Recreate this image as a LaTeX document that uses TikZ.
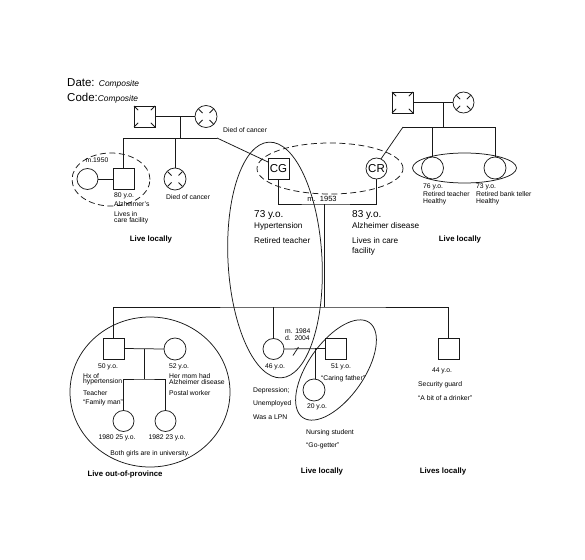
\documentclass[tikz,border=0pt]{standalone}
\usepackage{fontspec}
\setmainfont{Liberation Sans}
\usetikzlibrary{calc}
\newcommand\dsq[1]{\foreach \a in {north west,north east,south west,south east}{\draw[ln] (#1.\a) -- ($(#1.\a)!0.4!(#1.center)$);}}
\newcommand\dci[1]{\foreach \a in {45,135,225,315}{\draw[ln] ($(#1.center)!0.95!(#1.\a)$) -- ($(#1.center)!0.45!(#1.\a)$);}}
\begin{document}
\begin{tikzpicture}[x=1pt,y=-1pt,
  ln/.style={line width=0.75pt, draw=black!90},
  male/.style={ln, rectangle, minimum size=21pt, inner sep=0, outer sep=0},
  female/.style={ln, circle, minimum size=21pt, inner sep=0, outer sep=0},
  sm/.style={font=\fontsize{6.8}{7}\selectfont, inner sep=0},
  md/.style={font=\fontsize{8.2}{9}\selectfont, inner sep=0},
  lg/.style={font=\fontsize{10}{11}\selectfont, inner sep=0},
  loc/.style={font=\fontsize{7.8}{9}\selectfont\bfseries, inner sep=0},
  grp/.style={line width=0.75pt, draw=black!90},
  dgrp/.style={grp, dash pattern=on 6pt off 3.5pt},
]
\useasboundingbox (0,0) rectangle (585,559);

% header
\node[anchor=west, inner sep=0, font=\fontsize{11.5}{12}\selectfont] (date) at (67,83) {Date: {\itshape\fontsize{8.4}{9}\selectfont Composite}};
\node[anchor=west, inner sep=0, font=\fontsize{11.5}{12}\selectfont] (code) at (67,98) {Code:{\itshape\fontsize{8.4}{9}\selectfont Composite}};

% left grandparents
\node[male] (gf1) at (144.5,116.5) {};
\node[female, minimum size=22pt] (gm1) at (206,116.5) {};
\dsq{gf1} \dci{gm1}
\draw[ln] (gf1.east) -- (gm1.west);
\coordinate (m1) at (180,116.5);
\coordinate (s1) at (180,138);
\coordinate (s1l) at (123.5,138);
\coordinate (s1r) at (217,138);
\draw[ln] (m1) -- (s1);
\node[sm, anchor=west] (dc1) at (223,130) {Died of cancer};

\node[male] (unc) at (123.5,179) {};
\node[female] (aunt) at (87.5,179) {};
\node[female, minimum size=22pt] (aunt2) at (175,179) {};
\dci{aunt2}
\draw[ln] (aunt.east) -- (unc.west);
\draw[ln] (unc.north) -- (s1l) -- (s1r);
\draw[ln] (aunt2.north) -- (aunt2.north |- s1);
\draw[dgrp] (111,179.5) ellipse [x radius=39pt, y radius=26.5pt];
\node[sm] (m1950) at (97,160) {m.1950};
\node[sm, anchor=west] (u1) at (114,196) {80 y.o.};
\node[sm, anchor=west] (u2) at (114,204.5) {Alzheimer’s};
\node[sm, anchor=west] (u3) at (114,214) {Lives in};
\node[sm, anchor=west] (u4) at (114,221) {care facility};
\node[sm, anchor=west] (dc2) at (166,197) {Died of cancer};
\node[loc] (ll1) at (151,239) {Live locally};

% right grandparents
\node[male] (gf2) at (402.5,102.5) {};
\node[female] (gm2) at (463.5,102.5) {};
\dsq{gf2} \dci{gm2}
\draw[ln] (gf2.east) -- (gm2.west);
\coordinate (m3) at (443,102.5);
\coordinate (s3) at (443,127);
\coordinate (s3l) at (403,127);
\draw[ln] (m3) -- (s3);
\node[female, minimum size=22pt] (sis1) at (432.5,168) {};
\node[female, minimum size=22pt] (sis2) at (495,168) {};
\draw[ln] (sis1.north) -- (sis1.north |- s3);
\draw[ln] (s3l) -- (sis2.north |- s3) -- (sis2.north);
\draw[grp] (464.5,168) ellipse [x radius=52pt, y radius=15pt];
\node[sm, anchor=west] (a1) at (423,187) {76 y.o.};
\node[sm, anchor=west] (a2) at (423,194.5) {Retired teacher};
\node[sm, anchor=west] (a3) at (423,202) {Healthy};
\node[sm, anchor=west] (b1) at (476,187) {73 y.o.};
\node[sm, anchor=west] (b2) at (476,194.5) {Retired bank teller};
\node[sm, anchor=west] (b3) at (476,202) {Healthy};
\node[loc] (ll2) at (460,239) {Live locally};

% CG and CR
\node[male, font=\fontsize{11.5}{12}\selectfont] (cg) at (278.5,168.5) {CG};
\node[female, font=\fontsize{11.5}{12}\selectfont] (cr) at (376.5,168.5) {CR};
\draw[ln] (s1r) -- (cg.west |- 0,162);
\draw[ln] (s3l) -- (cr.65);
\draw[dgrp] (330,168.5) ellipse [x radius=73pt, y radius=25.5pt];
\coordinate (m2) at (324.5,204);
\draw[ln] (cg.south) |- (m2) -| (cr.south);
\node[sm, font=\fontsize{7.5}{8}\selectfont] (m1953) at (322,198.5) {m.\ \ 1953};
\node[lg, anchor=west] (cg1) at (254,215) {73 y.o.};
\node[md, anchor=west] (cg2) at (254,226) {Hypertension};
\node[md, anchor=west] (cg3) at (254,241) {Retired teacher};
\node[lg, anchor=west] (cr1) at (352,215) {83 y.o.};
\node[md, anchor=west] (cr2) at (352,226) {Alzheimer disease};
\node[md, anchor=west] (cr3) at (352,241) {Lives in care};
\node[md, anchor=west] (cr4) at (352,251) {facility};
\draw[grp, rotate around={3:(275,260)}] (275,260) ellipse [x radius=47pt, y radius=118pt];

% children sibship
\coordinate (s2) at (324.5,307);
\draw[ln] (m2) -- (s2);
\node[male] (son) at (113.5,348.5) {};
\node[male] (son2) at (448.5,348.5) {};
\draw[ln] (son.north) |- (s2) -| (son2.north);

% son family
\node[female, minimum size=22pt] (sonw) at (175,349) {};
\draw[ln] (son.east) -- (sonw.west);
\coordinate (m4) at (144,349);
\coordinate (s4) at (144,379);
\node[female] (g1) at (123.5,421) {};
\node[female] (g2) at (165.5,421) {};
\draw[ln] (m4) -- (s4);
\draw[ln] (g1.north) |- (s4) -| (g2.north);
\draw[grp] (150,392) ellipse [x radius=80pt, y radius=75pt];
\node[sm] (sn1) at (108,367) {50 y.o.};
\node[sm, anchor=west] (sn2) at (83,376) {Hx of};
\node[sm, anchor=west] (sn3) at (83,382) {hypertension};
\node[sm, anchor=west] (sn4) at (83,393) {Teacher};
\node[sm, anchor=west] (sn5) at (83,403) {“Family man”};
\node[sm] (sw1) at (179,367) {52 y.o.};
\node[sm, anchor=west] (sw2) at (169,376) {Her mom had};
\node[sm, anchor=west] (sw3) at (169,382) {Alzheimer disease};
\node[sm, anchor=west] (sw4) at (169,393) {Postal worker};
\node[sm] (g1t) at (117,438) {1980 25 y.o.};
\node[sm] (g2t) at (167,438) {1982 23 y.o.};
\node[sm] (both) at (150,454) {Both girls are in university.};
\node[loc] (ll3) at (125,474) {Live out-of-province};

% daughter family
\node[female] (dau) at (273.5,349) {};
\node[male] (dauh) at (335.5,348.5) {};
\draw[ln] (dau.north) -- (dau.north |- s2);
\draw[ln] (dau.east) -- (dauh.west);
\draw[ln] (293,355.5) -- (298.5,347);
\coordinate (m5) at (315,349);
\node[female, minimum size=22pt] (gd) at (314,390) {};
\draw[ln] (m5) -- (m5 |- gd.north);
\draw[grp, rotate around={55:(336,370)}] (336,370) ellipse [x radius=58pt, y radius=28pt];
\node[sm, anchor=west] (md1) at (285,331) {m. 1984};
\node[sm, anchor=west] (md2) at (285,338) {d.\ \ 2004};
\node[sm] (d1) at (275,367) {46 y.o.};
\node[sm] (h1) at (341,367) {51 y.o.};
\node[sm, anchor=west] (h2) at (321,379) {“Caring father”};
\node[sm] (gd1) at (317,407) {20 y.o.};
\node[sm, anchor=west] (d2) at (253,391) {Depression;};
\node[sm, anchor=west] (d3) at (253,404) {Unemployed};
\node[sm, anchor=west] (d4) at (253,417) {Was a LPN};
\node[sm, anchor=west] (gd2) at (306,433) {Nursing student};
\node[sm, anchor=west] (gd3) at (306,446) {“Go-getter”};
\node[loc] (ll4) at (322,471) {Live locally};

% youngest son
\node[sm] (y1) at (442,371) {44 y.o.};
\node[sm, anchor=west] (y2) at (418,385) {Security guard};
\node[sm, anchor=west] (y3) at (418,398) {“A bit of a drinker”};
\node[loc] (ll5) at (443,471) {Lives locally};
\end{tikzpicture}
\end{document}
